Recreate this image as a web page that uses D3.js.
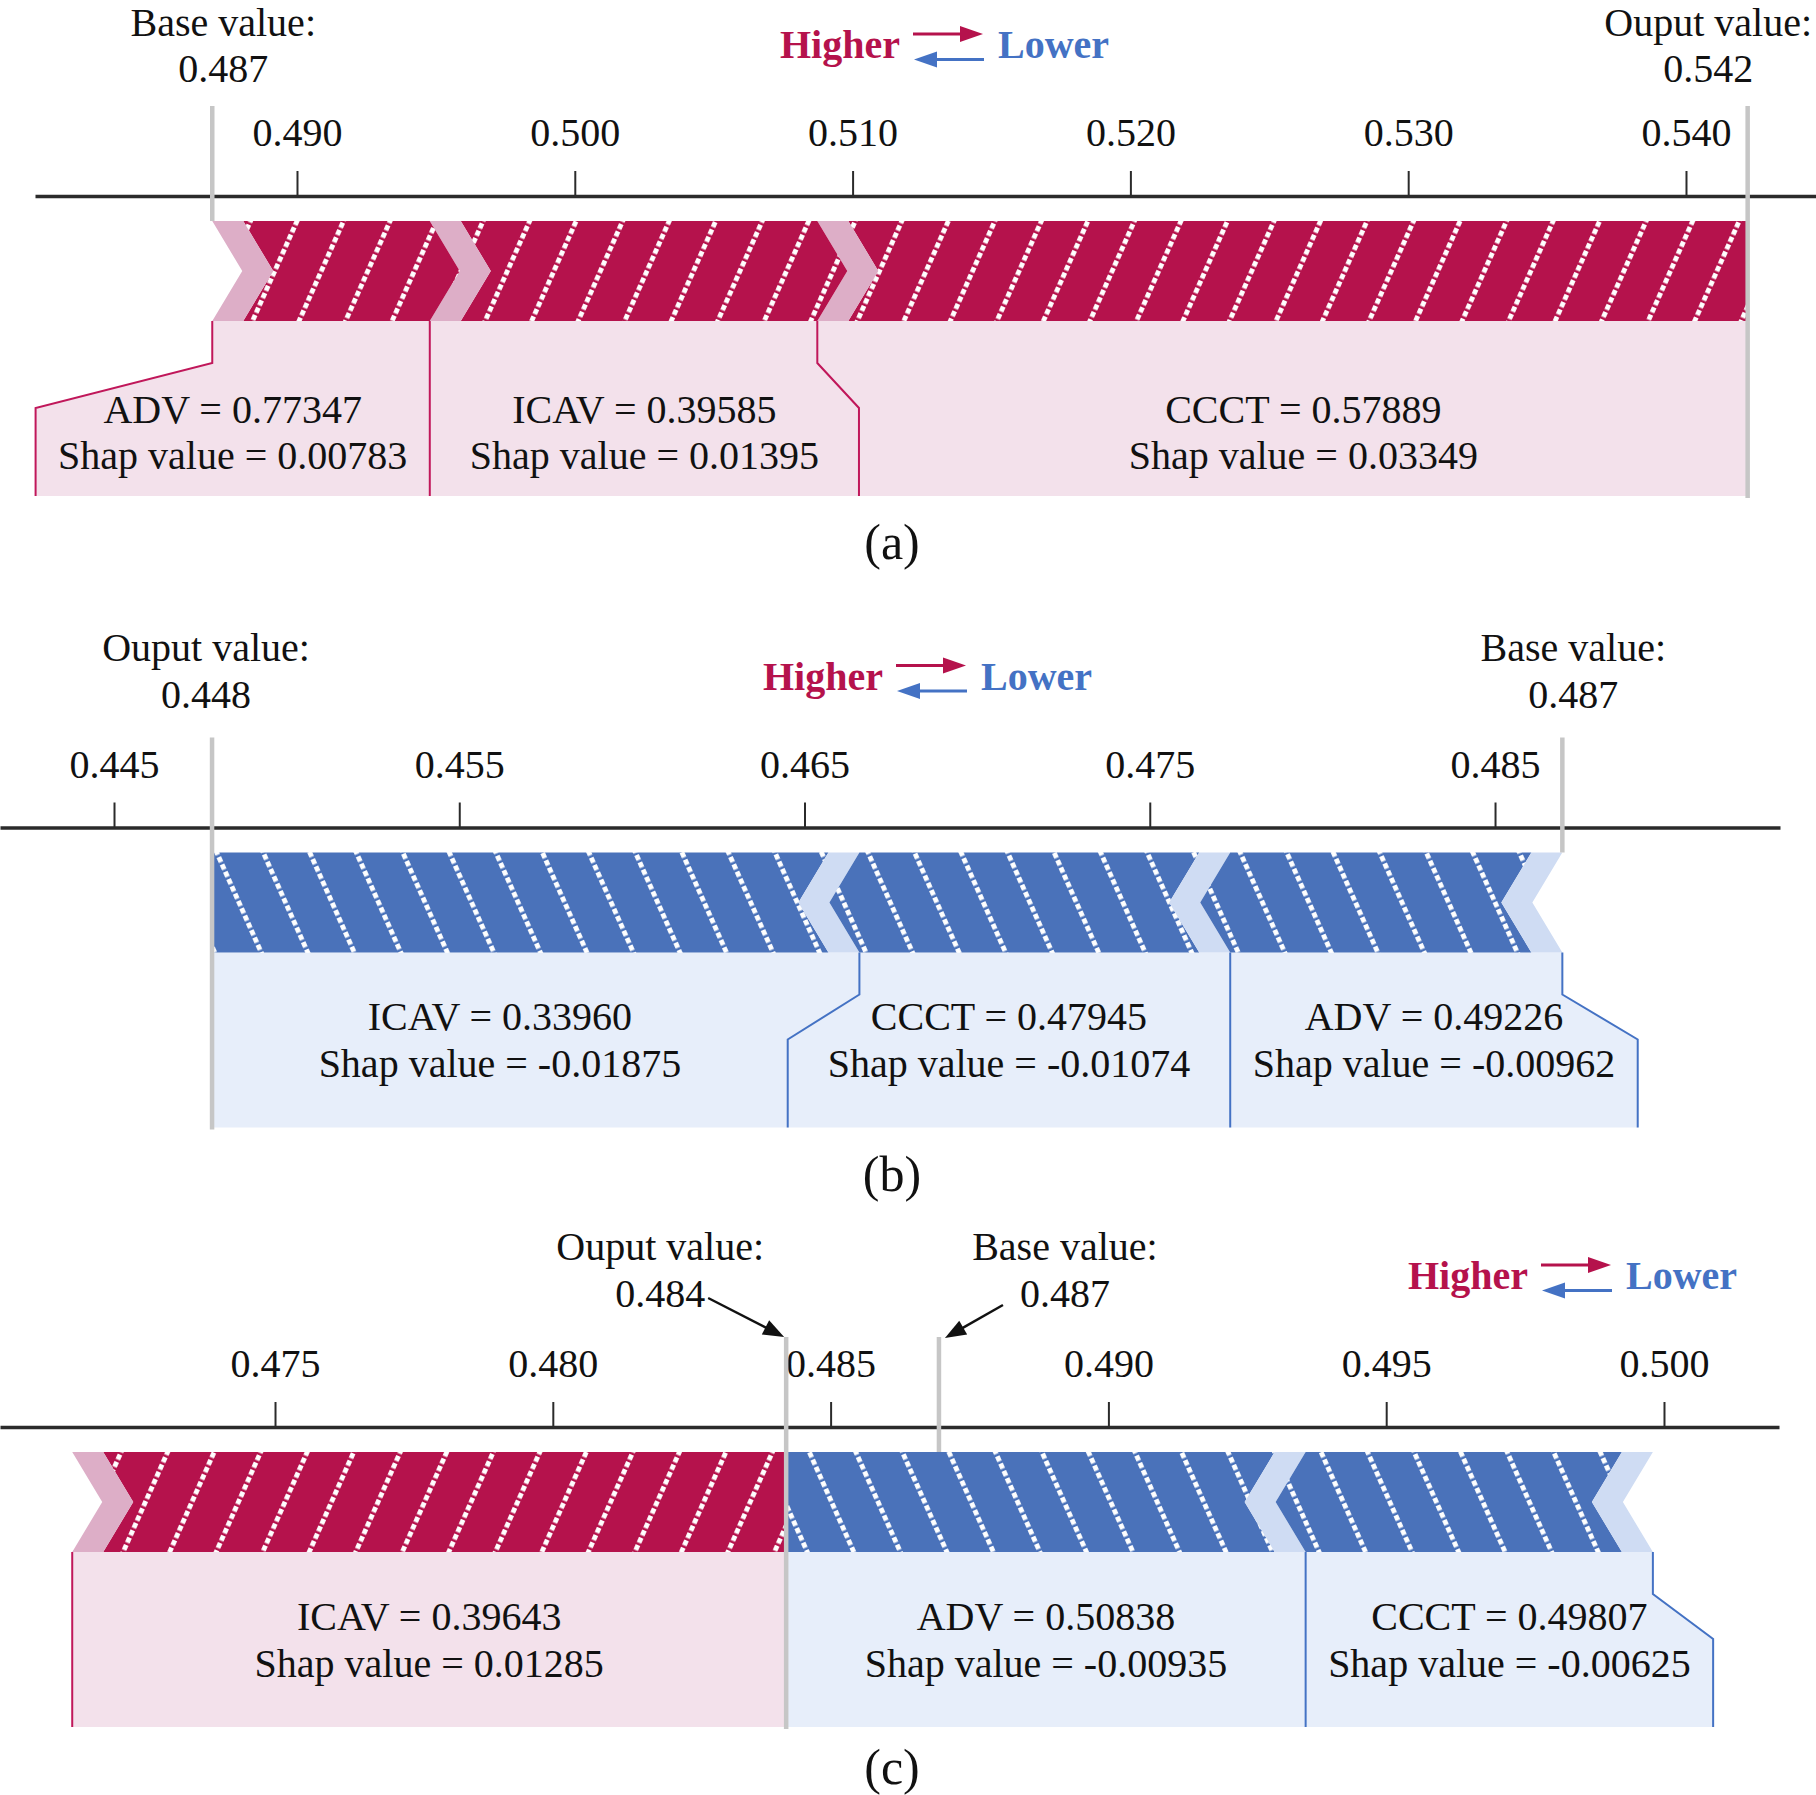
<!DOCTYPE html>
<html><head><meta charset="utf-8">
<script src="https://cdn.jsdelivr.net/npm/d3@7"></script>
<style>body{margin:0;background:#fff}</style>
</head><body>
<script>
// ---------------- DATA ----------------
const baseValue = 0.48695;

const featuresA = ["ADV", "ICAV", "CCCT"];
const featureValuesA = [0.77347, 0.39585, 0.57889];
const shapA = [0.00783, 0.01395, 0.03349];
const ticksA = [0.490, 0.500, 0.510, 0.520, 0.530, 0.540];

const featuresB = ["ICAV", "CCCT", "ADV"];
const featureValuesB = [0.33960, 0.47945, 0.49226];
const shapB = [-0.01875, -0.01074, -0.00962];
const ticksB = [0.445, 0.455, 0.465, 0.475, 0.485];

const featuresC = ["ICAV", "ADV", "CCCT"];
const featureValuesC = [0.39643, 0.50838, 0.49807];
const shapC = [0.01285, -0.00935, -0.00625];
const ticksC = [0.475, 0.480, 0.485, 0.490, 0.495, 0.500];

const captions = ["(a)", "(b)", "(c)"];

// ---------------- LAYOUT / STYLE ----------------
const W = 1816, H = 1795;
const FONT = "'Liberation Serif','Times New Roman',Times,serif";
const POS = {dark: "#b5124c", light: "#ddaec7", back: "#f3e1eb", line: "#c0175a", text: "#b5124c"};
const NEG = {dark: "#4a72ba", light: "#cfdcf3", back: "#e7eefa", line: "#4472c4", text: "#4472c4"};

const layouts = [
  {axisY: 196,   x0: 35, x1: 1816, domain: [0.480569, 0.544680], legendX: 780,  captionY: 559,  dy1: 227,   dy2: 273},
  {axisY: 827.5, x0: 0,  x1: 1780, domain: [0.441698, 0.493254], legendX: 763,  captionY: 1191, dy1: 202.5, dy2: 249.5},
  {axisY: 1427,  x0: 0,  x1: 1779, domain: [0.470050, 0.502070], legendX: 1408, captionY: 1784, dy1: 202.5, dy2: 249.5}
];

const svg = d3.select("body").append("svg").attr("width", W).attr("height", H)
  .style("display", "block").style("background", "#fff");
const defs = svg.append("defs");

function hatch(id, color, angle) {
  const pw = 42.5, ph = 72;
  const p = defs.append("pattern").attr("id", id).attr("patternUnits", "userSpaceOnUse")
    .attr("width", pw).attr("height", ph).attr("patternTransform", `rotate(${angle})`);
  p.append("rect").attr("width", pw).attr("height", ph).attr("fill", color);
  p.append("line").attr("x1", pw / 2).attr("x2", pw / 2).attr("y1", 0).attr("y2", ph)
    .attr("stroke", "#fff").attr("stroke-width", 4.8).attr("stroke-dasharray", "5.5 2.5");
}
hatch("hatchPos", POS.dark, 24);
hatch("hatchNeg", NEG.dark, -24);

// text measuring
const measurer = svg.append("text").attr("font-family", FONT).attr("font-size", 40).attr("visibility", "hidden");
function textW(s, size = 40, weight = "normal") {
  measurer.attr("font-size", size).attr("font-weight", weight).text(s);
  return measurer.node().getComputedTextLength();
}

const line = d3.line();

function arrowHead(g, x1, y1, x2, y2, len, half, color, sw) {
  const a = Math.atan2(y2 - y1, x2 - x1);
  const bx = x2 - len * Math.cos(a), by = y2 - len * Math.sin(a);
  const px = -Math.sin(a) * half, py = Math.cos(a) * half;
  g.append("line").attr("x1", x1).attr("y1", y1).attr("x2", bx + Math.cos(a)).attr("y2", by + Math.sin(a))
    .attr("stroke", color).attr("stroke-width", sw);
  g.append("path").attr("d", line([[x2, y2], [bx + px, by + py], [bx - px, by - py]]) + "Z").attr("fill", color);
}

function drawPanel(L, feats, fvals, shaps, ticks, caption) {
  const g = svg.append("g");
  const x = d3.scaleLinear().domain(L.domain).range([L.x0, L.x1]);
  const axisY = L.axisY;
  const T = axisY + 25, B = axisY + 125, M = axisY + 75, LB = axisY + 300;
  const w = 31, t = 30;

  // axis
  const axis = d3.axisTop(x).tickValues(ticks).tickFormat(d3.format(".3f"))
    .tickSize(25).tickPadding(25).tickSizeOuter(0);
  const ag = g.append("g").attr("transform", `translate(0,${axisY})`).call(axis);
  ag.select(".domain").attr("stroke", "#2b2b2b").attr("stroke-width", 3.5);
  ag.selectAll(".tick line").attr("stroke", "#2b2b2b").attr("stroke-width", 2);
  ag.selectAll(".tick text").attr("font-family", FONT).attr("font-size", 40).attr("fill", "#111");

  // segments
  const out = baseValue + d3.sum(shaps);
  const xo = x(out), xb = x(baseValue);
  const idx = d3.range(feats.length);
  const pos = idx.filter(i => shaps[i] > 0).sort((a, b) => shaps[b] - shaps[a]);
  const neg = idx.filter(i => shaps[i] < 0).sort((a, b) => shaps[a] - shaps[b]);
  const segs = [];
  let cum = out;
  pos.forEach((i, k) => {
    const v1 = cum, v0 = cum - shaps[i];
    segs.push({i, sign: 1, x0: x(v0), x1: x(v1), inner: k === 0, outer: k === pos.length - 1, k});
    cum = v0;
  });
  cum = out;
  neg.forEach((i, k) => {
    const v0 = cum, v1 = cum - shaps[i];
    segs.push({i, sign: -1, x0: x(v0), x1: x(v1), inner: k === 0, outer: k === neg.length - 1, k});
    cum = v1;
  });

  // label boxes (distances from the output value)
  [1, -1].forEach(sign => {
    const side = segs.filter(s => s.sign === sign);
    side.forEach((s, k) => {
      s.dIn = sign > 0 ? xo - s.x1 : s.x0 - xo;
      s.dOut = sign > 0 ? xo - s.x0 : s.x1 - xo;
      s.l1 = `${feats[s.i]} = ${fvals[s.i].toFixed(5)}`;
      s.l2 = `Shap value = ${shaps[s.i].toFixed(5)}`;
      const pad = (k === side.length - 1) ? 45 : 80;
      s.minW = Math.max(textW(s.l1), textW(s.l2)) + pad;
    });
    let outer = null;
    for (let k = side.length - 1; k >= 0; k--) {
      const s = side[k];
      if (k === side.length - 1) outer = Math.max(s.dOut, s.dIn + s.minW);
      s.bOut = outer;
      s.bIn = k === 0 ? 0 : Math.min(s.dIn, outer - s.minW);
      outer = s.bIn;
    }
    side.forEach(s => {
      const toX = d => sign > 0 ? xo - d : xo + d;
      s.segInX = toX(s.dIn); s.segOutX = toX(s.dOut);
      s.boxInX = toX(s.bIn); s.boxOutX = toX(s.bOut);
    });
  });

  function conn(xs, xbx) {
    if (Math.abs(xs - xbx) < 1.5) return [[xs, B], [xs, LB]];
    return [[xs, B], [xs, B + 42], [xbx, B + 87], [xbx, LB]];
  }

  // label backgrounds
  segs.forEach(s => {
    const c = s.sign > 0 ? POS : NEG;
    const oc = conn(s.segOutX, s.boxOutX);
    const ic = conn(s.segInX, s.boxInX).reverse();
    g.append("path").attr("d", line(oc.concat(ic)) + "Z").attr("fill", c.back);
  });

  // bars
  segs.forEach(s => {
    const c = s.sign > 0 ? POS : NEG;
    let light, dark;
    const a = s.x0, e = s.x1;
    if (s.sign > 0) {
      const te = s.inner ? 0 : t;
      light = [[a, T], [a + w, T], [a + w + t, M], [a + w, B], [a, B], [a + t, M]];
      dark = [[a + w, T], [e, T], [e + te, M], [e, B], [a + w, B], [a + w + t, M]];
    } else {
      const ts = s.inner ? 0 : t;
      light = [[e - w, T], [e, T], [e - t, M], [e, B], [e - w, B], [e - w - t, M]];
      dark = [[a, T], [e - w, T], [e - w - t, M], [e - w, B], [a, B], [a - ts, M]];
    }
    g.append("path").attr("d", line(dark) + "Z").attr("fill", s.sign > 0 ? "url(#hatchPos)" : "url(#hatchNeg)");
    g.append("path").attr("d", line(light) + "Z").attr("fill", c.light);
  });

  // connector lines
  segs.forEach(s => {
    const c = s.sign > 0 ? POS : NEG;
    g.append("path").attr("d", line(conn(s.segOutX, s.boxOutX))).attr("fill", "none")
      .attr("stroke", c.line).attr("stroke-width", 2);
  });

  // label texts
  segs.forEach(s => {
    const cx = (s.boxInX + s.boxOutX) / 2;
    [[s.l1, L.dy1], [s.l2, L.dy2]].forEach(([txt, dy]) => {
      g.append("text").attr("x", cx).attr("y", axisY + dy).attr("text-anchor", "middle")
        .attr("font-family", FONT).attr("font-size", 40).attr("fill", "#111").text(txt);
    });
  });

  // grey reference lines
  g.append("line").attr("x1", xo).attr("x2", xo).attr("y1", axisY - 90).attr("y2", LB + 2)
    .attr("stroke", "#c6c6c6").attr("stroke-width", 4.5);
  g.append("line").attr("x1", xb).attr("x2", xb).attr("y1", axisY - 90).attr("y2", T)
    .attr("stroke", "#c6c6c6").attr("stroke-width", 4.5);

  // base / output labels
  const close = Math.abs(xo - xb) < 300;
  const labels = [
    {title: "Base value:", v: baseValue, x: xb, kind: "base"},
    {title: "Ouput value:", v: out, x: xo, kind: "out"}
  ];
  const titleY = Math.max(36, axisY - 167);
  const valueY = Math.max(titleY + 46, axisY - 120);
  labels.forEach(lb => {
    const vt = lb.v.toFixed(3);
    const half = Math.max(textW(lb.title), textW(vt)) / 2;
    let cx;
    if (close) {
      const leftOne = (lb.kind === "out") === (xo < xb);
      cx = leftOne ? lb.x - 126 : lb.x + 126;
    } else {
      cx = lb.kind === "base" ? lb.x + 11 : lb.x - 6;
    }
    cx = Math.max(half + 4, Math.min(W - half - 4, cx));
    g.append("text").attr("x", cx).attr("y", titleY).attr("text-anchor", "middle")
      .attr("font-family", FONT).attr("font-size", 40).attr("fill", "#111").text(lb.title);
    g.append("text").attr("x", cx).attr("y", valueY).attr("text-anchor", "middle")
      .attr("font-family", FONT).attr("font-size", 40).attr("fill", "#111").text(vt);
    if (close) {
      if (cx < lb.x) arrowHead(g, cx + 48, axisY - 129, lb.x - 2, axisY - 90, 21, 8, "#111", 2.4);
      else arrowHead(g, cx - 62, axisY - 122, lb.x + 6, axisY - 89, 21, 8, "#111", 2.4);
    }
  });

  // legend
  const lx = L.legendX, ly = axisY - 138;
  g.append("text").attr("x", lx).attr("y", ly).attr("font-family", FONT).attr("font-size", 40)
    .attr("font-weight", "bold").attr("fill", POS.text).text("Higher");
  arrowHead(g, lx + 133, ly - 24, lx + 203, ly - 24, 23, 8, POS.text, 3);
  arrowHead(g, lx + 204, ly + 1.5, lx + 134, ly + 1.5, 23, 8, NEG.text, 3);
  g.append("text").attr("x", lx + 218).attr("y", ly).attr("font-family", FONT).attr("font-size", 40)
    .attr("font-weight", "bold").attr("fill", NEG.text).text("Lower");

  // caption
  g.append("text").attr("x", 892).attr("y", L.captionY).attr("text-anchor", "middle")
    .attr("font-family", FONT).attr("font-size", 50).attr("fill", "#111").text(caption);
}

drawPanel(layouts[0], featuresA, featureValuesA, shapA, ticksA, captions[0]);
drawPanel(layouts[1], featuresB, featureValuesB, shapB, ticksB, captions[1]);
drawPanel(layouts[2], featuresC, featureValuesC, shapC, ticksC, captions[2]);
measurer.remove();
</script>
</body></html>
